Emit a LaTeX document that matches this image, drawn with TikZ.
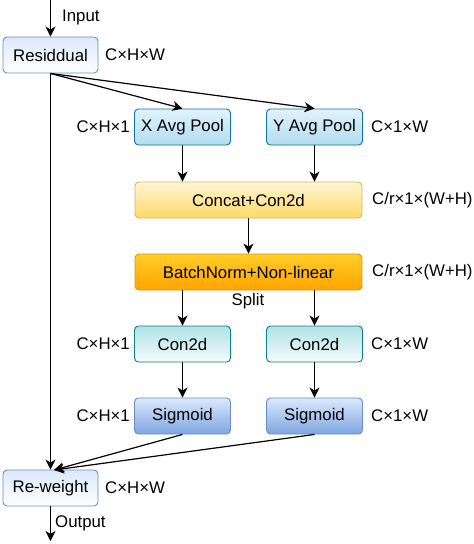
\documentclass[tikz,border=0pt]{standalone}
\usepackage{fontspec}
\setmainfont{Liberation Sans}
\usetikzlibrary{arrows.meta}
\definecolor{resA}{HTML}{DAE8FC}
\definecolor{resB}{HTML}{FFFFFF}
\definecolor{resD}{HTML}{6C8EBF}
\definecolor{poolA}{HTML}{E1F2FA}
\definecolor{poolB}{HTML}{B1DDF0}
\definecolor{poolD}{HTML}{10739E}
\definecolor{catA}{HTML}{FFF5D6}
\definecolor{catB}{HTML}{FFD966}
\definecolor{catD}{HTML}{D6B656}
\definecolor{bnA}{HTML}{FFCD28}
\definecolor{bnB}{HTML}{FFA500}
\definecolor{bnD}{HTML}{D79B00}
\definecolor{cvA}{HTML}{B0E3E6}
\definecolor{cvB}{HTML}{F4FBFB}
\definecolor{cvD}{HTML}{0E8088}
\definecolor{sgA}{HTML}{DAE8FC}
\definecolor{sgB}{HTML}{7EA6E0}
\definecolor{sgD}{HTML}{6C8EBF}
\tikzset{
  box/.style={rounded corners=4pt, line width=0.9pt, inner sep=0pt, font=\fontsize{16.8}{20}\selectfont},
  resbox/.style={box, draw=resD, top color=resA, bottom color=resB, minimum width=95pt, minimum height=36pt},
  poolbox/.style={box, draw=poolD, top color=poolA, bottom color=poolB, minimum width=96pt, minimum height=36pt},
  catbox/.style={box, draw=catD, top color=catA, bottom color=catB, minimum width=227pt, minimum height=36pt},
  bnbox/.style={box, draw=bnD, top color=bnA, bottom color=bnB, minimum width=227pt, minimum height=36pt},
  cvbox/.style={box, draw=cvD, top color=cvA, bottom color=cvB, minimum width=96pt, minimum height=36pt},
  sgbox/.style={box, draw=sgD, top color=sgA, bottom color=sgB, minimum width=96pt, minimum height=36pt},
  lbl/.style={inner sep=0pt, font=\fontsize{16.8}{20}\selectfont},
  arr/.style={-{Stealth[length=10pt,width=10pt,inset=3pt]}, line width=1.2pt, black},
}
\begin{document}
\begin{tikzpicture}[x=1pt,y=-1pt]
\useasboundingbox (0,0) rectangle (474,544);
\fill[white] (0,0) rectangle (474,544);

\coordinate (top) at (50.5,0);
\node[resbox] (res) at (50.5,55) {Residdual};
\node[poolbox] (xp) at (182.5,127) {X Avg Pool};
\node[poolbox] (yp) at (314.5,127) {Y Avg Pool};
\node[catbox] (cat) at (248.5,200) {Concat+Con2d};
\node[bnbox] (bn) at (248.5,272) {BatchNorm+Non-linear};
\node[cvbox] (cvl) at (182.5,344) {Con2d};
\node[cvbox] (cvr) at (314.5,344) {Con2d};
\node[sgbox] (sgl) at (182.5,416) {Sigmoid};
\node[sgbox] (sgr) at (314.5,416) {Sigmoid};
\node[resbox] (rw) at (50.5,488) {Re-weight};
\coordinate (bot) at (50.5,541);
\coordinate (rwin) at (54,470);

% labels
\node[lbl, anchor=west] (lin) at (62,17) {Input};
\node[lbl, anchor=west] (l1) at (105,55) {C×H×W};
\node[lbl, anchor=east] (l2) at (130,127) {C×H×1};
\node[lbl, anchor=west] (l3) at (371,127) {C×1×W};
\node[lbl, anchor=west] (l4) at (372,200) {C/r×1×(W+H)};
\node[lbl, anchor=west] (l5) at (372,272) {C/r×1×(W+H)};
\node[lbl] (lsplit) at (248,301) {Split};
\node[lbl, anchor=east] (l6) at (130,344) {C×H×1};
\node[lbl, anchor=west] (l7) at (371,344) {C×1×W};
\node[lbl, anchor=east] (l8) at (130,416) {C×H×1};
\node[lbl, anchor=west] (l9) at (371,416) {C×1×W};
\node[lbl, anchor=west] (l10) at (105,488) {C×H×W};
\node[lbl, anchor=west] (lout) at (55,523) {Output};

% connectors
\draw[arr] (top) -- (res.north);
\draw[arr] (res.south) -- (xp.north);
\draw[arr] (res.south) -- (yp.north);
\draw[arr] (res.south) -- (rw.north);
\draw[arr] (xp.south) -- (xp.south |- cat.north);
\draw[arr] (yp.south) -- (yp.south |- cat.north);
\draw[arr] (cat.south) -- (bn.north);
\draw[arr] (cvl.north |- bn.south) -- (cvl.north);
\draw[arr] (cvr.north |- bn.south) -- (cvr.north);
\draw[arr] (cvl.south) -- (sgl.north);
\draw[arr] (cvr.south) -- (sgr.north);
\draw[arr] (sgl.south) -- (rwin);
\draw[arr] (sgr.south) -- (rwin);
\draw[arr] (rw.south) -- (bot);
\end{tikzpicture}
\end{document}
